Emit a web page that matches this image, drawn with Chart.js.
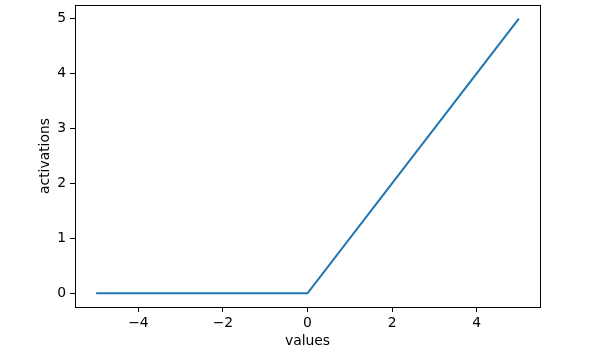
<!DOCTYPE html>
<html>
<head>
<meta charset="utf-8">
<script src="https://cdn.jsdelivr.net/npm/chart.js@4/dist/chart.umd.min.js"></script>
<style>
  html, body { margin: 0; padding: 0; background: #fff; }
  #wrap { width: 600px; height: 358px; }
</style>
</head>
<body>
<div id="wrap"><canvas id="reluChart" width="600" height="358"></canvas></div>
<script>
// data
const xValues = [-5, 0, 5];
const activations = [0, 0, 5];
const xTicks = [-4, -2, 0, 2, 4];
const yTicks = [0, 1, 2, 3, 4, 5];

const fontSpec = { family: 'DejaVu Sans', size: 13.9 };

function fmt(v) {
    return v < 0 ? '\u2212' + Math.abs(v) : String(v);
}

// box around the plot area like matplotlib
const frame = {
    id: 'frame',
    afterDraw(chart) {
        const a = chart.chartArea;
        const ctx = chart.ctx;
        ctx.save();
        ctx.strokeStyle = '#000';
        ctx.lineWidth = 1;
        ctx.strokeRect(Math.round(a.left) + 0.5, Math.round(a.top) + 0.5,
            Math.round(a.right - a.left), Math.round(a.bottom - a.top));
        ctx.restore();
    }
};

const ctx = document.getElementById('reluChart').getContext('2d');
new Chart(ctx, {
    type: 'line',
    data: {
        datasets: [{
            label: 'relu',
            data: xValues.map((x, i) => ({ x: x, y: activations[i] })),
            borderColor: '#1f77b4',
            borderWidth: 2.1,
            pointRadius: 0,
            tension: 0,
            fill: false
        }]
    },
    plugins: [frame],
    options: {
        responsive: false,
        animation: false,
        layout: { padding: { left: 0, right: 60, top: 5, bottom: 0 } },
        plugins: {
            legend: { display: false },
            tooltip: { enabled: false }
        },
        scales: {
            x: {
                type: 'linear',
                min: -5.5,
                max: 5.5,
                afterBuildTicks: s => { s.ticks = xTicks.map(v => ({ value: v })); },
                afterFit: s => { s.height = 51; s.paddingLeft = 0; s.paddingRight = 0; },
                grid: { drawOnChartArea: false, tickLength: 5, color: '#000', tickWidth: 1 },
                border: { display: false },
                ticks: { color: '#000', font: fontSpec, padding: 3, maxRotation: 0, callback: v => fmt(v) },
                title: { display: true, text: 'values', color: '#000', font: fontSpec, padding: { top: 0, bottom: 8 } }
            },
            y: {
                type: 'linear',
                min: -0.25,
                max: 5.25,
                afterBuildTicks: s => { s.ticks = yTicks.map(v => ({ value: v })); },
                afterFit: s => { s.width = 75; s.paddingTop = 0; s.paddingBottom = 0; },
                grid: { drawOnChartArea: false, tickLength: 5, color: '#000', tickWidth: 1 },
                border: { display: false },
                ticks: { color: '#000', font: fontSpec, padding: 4, callback: v => fmt(v) },
                title: { display: true, text: 'activations', color: '#000', font: fontSpec, padding: { top: 37, bottom: 0 } }
            }
        }
    }
});
</script>
</body>
</html>
